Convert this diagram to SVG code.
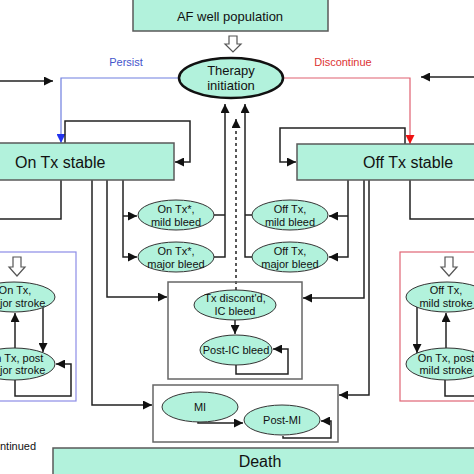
<svg xmlns="http://www.w3.org/2000/svg" width="474" height="474" viewBox="0 0 474 474">
<defs>
<style>
.box{fill:#b2f2dc;stroke:#5a5a5a;stroke-width:1.5}
.ell{fill:#b2f2dc;stroke:#333;stroke-width:1}
.frame{fill:none;stroke:#666;stroke-width:1.5}
.t{font-family:"Liberation Sans",Arial,sans-serif;fill:#111;text-anchor:middle;font-size:11px}
.big{font-size:16px;text-anchor:start}
.mid{font-size:13px}
.c{fill:none;stroke:#222;stroke-width:1.5;marker-end:url(#ah)}
.cn{fill:none;stroke:#222;stroke-width:1.5}
.hollow{fill:#fff;stroke:#555;stroke-width:1.2}
</style>
<marker id="ah" markerUnits="userSpaceOnUse" markerWidth="10" markerHeight="9" refX="9" refY="4.5" orient="auto"><path d="M0,0 L9,4.5 L0,9 z" fill="#111"/></marker>
<marker id="ahb" markerUnits="userSpaceOnUse" markerWidth="10" markerHeight="9" refX="9" refY="4.5" orient="auto"><path d="M0,0 L9,4.5 L0,9 z" fill="#2233ee"/></marker>
<marker id="ahr" markerUnits="userSpaceOnUse" markerWidth="10" markerHeight="9" refX="9" refY="4.5" orient="auto"><path d="M0,0 L9,4.5 L0,9 z" fill="#ee1111"/></marker>
</defs>
<rect width="474" height="474" fill="#fff"/>

<g id="connectors">
<path d="M179,78 H61 V143" fill="none" stroke="#6f7fe0" stroke-width="1.2" marker-end="url(#ahb)"/>
<path d="M283,78 H410 V144" fill="none" stroke="#e06070" stroke-width="1.2" marker-end="url(#ahr)"/>
<path class="c" d="M0,81 H53"/>
<path class="c" d="M474,77 H421"/>
<path class="c" d="M65,143 V121 H190 V162 H175"/>
<path class="c" d="M405,144 V128 H280 V162 H296"/>
<path class="cn" d="M61,180 V219 H-2"/>
<path class="c" d="M92,180 V405 H152"/>
<path class="c" d="M107,180 V297 H167"/>
<path class="c" d="M123,180 V257 H137"/>
<path class="c" d="M123,216 H137"/>
<path class="cn" d="M214,215 H225"/>
<path class="c" d="M214,257 H225 V104"/>
<path class="c" d="M236,290 V119" stroke-dasharray="3,3"/>
<path class="cn" d="M252,215 H245"/>
<path class="c" d="M252,257 H245 V104"/>
<path class="c" d="M348,180 V257 H329"/>
<path class="c" d="M348,216 H329"/>
<path class="c" d="M364,180 V298 H303"/>
<path class="c" d="M369,180 V395 H339"/>
<path class="cn" d="M410,180 V219 H476"/>
<path class="c" d="M235,320 V334"/>
<path class="c" d="M236,365 V374 H288 V349 H273"/>
<path class="c" d="M198,422 V423 H243"/>
<path class="c" d="M283,436 V438 H331 V421 H321"/>
<path class="c" d="M43,308 V352"/>
<path class="c" d="M15,348 V313"/>
<path class="c" d="M15,380 V396 H71 V364 H56"/>
<path class="c" d="M417,307 V353"/>
<path class="c" d="M446,348 V313"/>
<path class="cn" d="M445,380 V396 H476"/>
</g>

<g id="labels">
<text class="t" x="126" y="66" fill="#4455cc" style="fill:#4455cc">Persist</text>
<text class="t" x="343" y="66" style="fill:#dd3333">Discontinue</text>
<text class="t" x="0" y="450" style="text-anchor:start">ntinued</text>
</g>

<g id="af-well">
<rect class="box" x="133" y="-2" width="195" height="33"/>
<text class="t mid" x="230" y="21">AF well population</text>
<path class="hollow" d="M229,36 h8 v8 h4 l-8,8 l-8,-8 h4 z"/>
</g>

<g id="therapy-initiation">
<ellipse cx="231" cy="78" rx="52" ry="20" fill="#b2f2dc" stroke="#111" stroke-width="2.5"/>
<text class="t mid" x="231" y="75">Therapy</text>
<text class="t mid" x="231" y="90">initiation</text>
</g>

<g id="on-tx-stable">
<rect class="box" x="-2" y="143" width="176" height="37"/>
<text class="t big" x="15" y="168">On Tx stable</text>
</g>

<g id="off-tx-stable">
<rect class="box" x="297" y="144" width="180" height="36"/>
<text class="t big" x="363" y="168">Off Tx stable</text>
</g>

<g id="on-mild-bleed">
<ellipse class="ell" cx="176" cy="215" rx="38" ry="15"/>
<text class="t" x="176" y="213">On Tx*,</text>
<text class="t" x="176" y="226">mild bleed</text>
</g>
<g id="on-major-bleed">
<ellipse class="ell" cx="176" cy="257" rx="38" ry="15"/>
<text class="t" x="176" y="255">On Tx*,</text>
<text class="t" x="176" y="268">major bleed</text>
</g>
<g id="off-mild-bleed">
<ellipse class="ell" cx="290" cy="215" rx="38" ry="15"/>
<text class="t" x="290" y="213">Off Tx,</text>
<text class="t" x="290" y="226">mild bleed</text>
</g>
<g id="off-major-bleed">
<ellipse class="ell" cx="290" cy="257" rx="38" ry="15"/>
<text class="t" x="290" y="255">Off Tx,</text>
<text class="t" x="290" y="268">major bleed</text>
</g>

<g id="ic-bleed-box">
<rect class="frame" x="168" y="282" width="134" height="97"/>
</g>
<g id="tx-discontd-ic-bleed">
<ellipse class="ell" cx="235" cy="305" rx="41" ry="15"/>
<text class="t" x="235" y="302">Tx discont'd,</text>
<text class="t" x="235" y="315">IC bleed</text>
</g>
<g id="post-ic-bleed">
<ellipse class="ell" cx="236" cy="350" rx="36" ry="15"/>
<text class="t" x="236" y="354">Post-IC bleed</text>
</g>

<g id="mi-box">
<rect class="frame" x="153" y="385" width="185" height="57"/>
</g>
<g id="mi">
<ellipse class="ell" cx="200" cy="407" rx="38" ry="15"/>
<text class="t" x="200" y="411">MI</text>
</g>
<g id="post-mi">
<ellipse class="ell" cx="282" cy="420" rx="38" ry="15"/>
<text class="t" x="282" y="424">Post-MI</text>
</g>

<g id="death">
<rect class="box" x="53" y="448" width="425" height="28"/>
<text class="t" x="260" y="467" style="font-size:16px">Death</text>
</g>

<g id="on-stroke-box">
<rect x="-2" y="252" width="78" height="149" fill="none" stroke="#8c8ce6" stroke-width="1.2"/>
<path class="hollow" d="M13,257 h8 v10 h4 l-8,9 l-8,-9 h4 z"/>
</g>
<g id="on-major-stroke">
<ellipse class="ell" cx="14" cy="297" rx="41" ry="15"/>
<text class="t" x="15" y="294">On Tx,</text>
<text class="t" x="15" y="307">major stroke</text>
</g>
<g id="on-post-major-stroke">
<ellipse class="ell" cx="14" cy="364" rx="41" ry="16"/>
<text class="t" x="15" y="362">On Tx, post</text>
<text class="t" x="15" y="374">major stroke</text>
</g>

<g id="off-stroke-box">
<rect x="400" y="252" width="80" height="149" fill="none" stroke="#e06575" stroke-width="1.2"/>
<path class="hollow" d="M445,257 h8 v10 h4 l-8,9 l-8,-9 h4 z"/>
</g>
<g id="off-mild-stroke">
<ellipse class="ell" cx="447" cy="297" rx="41" ry="15"/>
<text class="t" x="446" y="294">Off Tx,</text>
<text class="t" x="446" y="307">mild stroke</text>
</g>
<g id="on-post-mild-stroke">
<ellipse class="ell" cx="447" cy="364" rx="41" ry="16"/>
<text class="t" x="446" y="362">On Tx, post</text>
<text class="t" x="446" y="374">mild stroke</text>
</g>
</svg>
